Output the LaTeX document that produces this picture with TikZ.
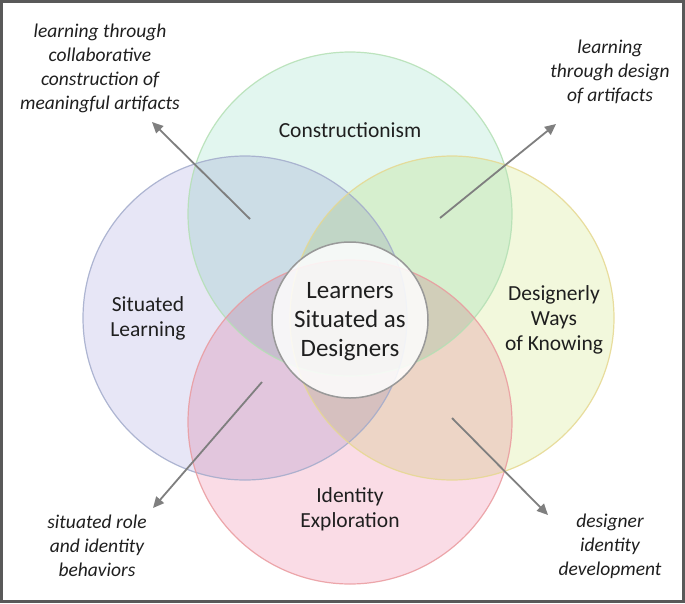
\documentclass[tikz,border=0pt]{standalone}
\usepackage{fontspec}
\setmainfont{Carlito}
\usetikzlibrary{arrows.meta}
\definecolor{cgreenF}{HTML}{E2F6EF}
\definecolor{cgreenD}{HTML}{B4E0B4}
\definecolor{cpurpF}{HTML}{E7E6F6}
\definecolor{cpurpD}{HTML}{A2ABCB}
\definecolor{cyelF}{HTML}{F2F8DC}
\definecolor{cyelD}{HTML}{E6D890}
\definecolor{cpinkF}{HTML}{FADCE6}
\definecolor{cpinkD}{HTML}{EA9A9E}
\definecolor{arrowgray}{HTML}{7F7F7F}
\definecolor{framegray}{HTML}{595959}
\definecolor{txt}{HTML}{1F1F1F}
\begin{document}
\begin{tikzpicture}[x=1pt,y=-1pt,
  venn/.style={circle,minimum size=324pt,inner sep=0pt,line width=1.2pt},
  lbl/.style={font=\fontsize{21.5}{25}\selectfont,text=txt,align=center,inner sep=0pt},
  note/.style={font=\fontsize{19.5}{24}\selectfont\itshape,text=txt,align=center,inner sep=0pt},
  pointer/.style={draw=arrowgray,line width=1.8pt,-{Triangle[length=11pt,width=10pt]}}]
\useasboundingbox (0,0) rectangle (685,603);
\fill[white] (0,0) rectangle (685,603);
% circles
\begin{scope}[blend group=multiply]
\node[venn,fill=cgreenF] (con) at (350,214) {};
\node[venn,fill=cpurpF] (sit) at (245,318) {};
\node[venn,fill=cyelF] (des) at (452,318) {};
\node[venn,fill=cpinkF] (ide) at (350,422) {};
\end{scope}
\begin{scope}[draw opacity=0.85]
\draw[cgreenD,line width=1.2pt] (con.center) circle (162);
\draw[cpurpD,line width=1.2pt] (sit.center) circle (162);
\draw[cyelD,line width=1.2pt] (des.center) circle (162);
\draw[cpinkD,line width=1.2pt] (ide.center) circle (162);
\end{scope}
\node[circle,minimum size=156pt,inner sep=0pt,fill=white,fill opacity=0.85,draw=black!40,line width=1.5pt] (core) at (350,320) {};
% circle labels
\node[lbl] (conL) at (350,130) {Constructionism};
\node[lbl] (sitL) at (148,318) {Situated\\Learning};
\node[lbl] (desL) at (554,320) {Designerly\\Ways\\of Knowing};
\node[lbl] (ideL) at (350,509) {Identity\\Exploration};
\node[lbl,font=\fontsize{25}{29}\selectfont] (coreL) at (350,322) {Learners\\Situated as\\Designers};
% notes
\node[note] (n1) at (100,68) {learning through\\collaborative\\construction of\\meaningful artifacts};
\node[note] (n2) at (610,72) {learning\\through design\\of artifacts};
\node[note] (n3) at (97,546) {situated role\\and identity\\behaviors};
\node[note] (n4) at (610,546) {designer\\identity\\development};
% arrows
\coordinate (a1s) at (250,219);
\coordinate (a1e) at (152,122);
\coordinate (a2s) at (440,218);
\coordinate (a2e) at (556,124);
\coordinate (a3s) at (262,382);
\coordinate (a3e) at (153,508);
\coordinate (a4s) at (452,418);
\coordinate (a4e) at (548,515);
\draw[pointer] (a1s) -- (a1e);
\draw[pointer] (a2s) -- (a2e);
\draw[pointer] (a3s) -- (a3e);
\draw[pointer] (a4s) -- (a4e);
\draw[framegray,line width=3pt] (1.5,1.5) rectangle (683.5,601.5);
\end{tikzpicture}
\end{document}
